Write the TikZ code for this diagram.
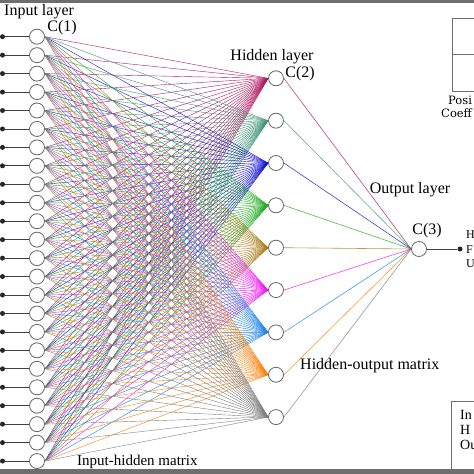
\documentclass[tikz,border=0pt]{standalone}
\usepackage{fontspec}
\setmainfont{Liberation Serif}
\newfontfamily\boxfont{DejaVu Serif}
\pgfdeclarelayer{bg}
\pgfsetlayers{bg,main}
\definecolor{c1}{RGB}{176,24,96}
\definecolor{c2}{RGB}{64,150,120}
\definecolor{c3}{RGB}{20,20,210}
\definecolor{c4}{RGB}{30,170,30}
\definecolor{c5}{RGB}{170,125,30}
\definecolor{c6}{RGB}{240,20,240}
\definecolor{c7}{RGB}{30,130,230}
\definecolor{c8}{RGB}{250,130,10}
\definecolor{c9}{RGB}{128,128,128}
\definecolor{frame}{RGB}{110,110,110}
\begin{document}
\begin{tikzpicture}[x=1pt,y=-1pt,
  neuron/.style={circle,draw=black!60,fill=white,line width=0.8pt,minimum size=15pt,inner sep=0pt},
  dotnode/.style={circle,fill=black!85,minimum size=5pt,inner sep=0pt},
  lbl/.style={font=\fontsize{16}{18}\selectfont,inner sep=0pt},
  sidelbl/.style={anchor=west,inner sep=0pt},
  wire/.style={draw=black!75,line width=0.8pt},
  boxline/.style={draw=frame,line width=0.9pt}]
\useasboundingbox (0,0) rectangle (474,474);
% nodes
\foreach \i in {1,...,24}{
  \node[neuron] (i\i) at (37,{36.7+(\i-1)*18.45}) {};
  \node[dotnode] (d\i) at (2.5,{36.7+(\i-1)*18.45}) {};
  \draw[wire] (d\i) -- (i\i);
}
\foreach \j in {1,...,9}{
  \node[neuron] (h\j) at (276,{78.3+(\j-1)*42.35}) {};
}
\node[neuron] (o) at (419,249) {};
\node[dotnode] (od) at (460,249) {};
\draw[wire] (o) -- (od);
% connections
\begin{pgfonlayer}{bg}
\fill[white] (0,0) rectangle (474,474);
\foreach \j in {1,...,9}{
  \foreach \i in {1,...,24}{
    \draw[draw=c\j,line width=0.4pt] (i\i.east) -- (h\j.west);
  }
  \draw[draw=c\j,line width=0.6pt,opacity=0.8] (h\j.east) -- (o.west);
}
\end{pgfonlayer}
% labels
\node[lbl,anchor=west] (tin) at (4,12) {Input layer};
\node[lbl] (tc1) at (62,28) {C(1)};
\node[lbl] (thid) at (272,57) {Hidden layer};
\node[lbl] (tc2) at (300,74) {C(2)};
\node[lbl] (tout) at (410,190) {Output layer};
\node[lbl] (tc3) at (427,231) {C(3)};
\node[lbl,anchor=west] (tho) at (300,366) {Hidden-output matrix};
\node[lbl,anchor=west,font=\fontsize{15}{17}\selectfont] (tih) at (77,462) {Input-hidden matrix};
% right side boxes and texts
\begin{scope}
\clip (0,0) rectangle (474,474);
\draw[boxline] (452,18) rectangle (480,91);
\draw[boxline] (452,54) -- (480,54);
\draw[boxline] (451,401) rectangle (480,480);
\fill[frame] (0,0) rectangle (474,3);
\fill[frame] (0,469) rectangle (474,474);
\end{scope}
\node[sidelbl,font=\boxfont\fontsize{11.5}{13}\selectfont] (tpos) at (448,100) {Posi};
\node[sidelbl,font=\boxfont\fontsize{11.5}{13}\selectfont] (tcoef) at (441,113) {Coeff};
\node[sidelbl,font=\fontsize{12}{12}\selectfont] (th) at (466,235) {H};
\node[sidelbl,font=\fontsize{12}{12}\selectfont] (tf) at (466,250) {F};
\node[sidelbl,font=\fontsize{12}{12}\selectfont] (tu) at (466,264) {U};
\node[sidelbl,font=\fontsize{14}{16}\selectfont] (tbi) at (460,415) {In};
\node[sidelbl,font=\fontsize{14}{16}\selectfont] (tbh) at (460,430) {H};
\node[sidelbl,font=\fontsize{14}{16}\selectfont] (tbo) at (460,445) {Ou};
\end{tikzpicture}
\end{document}
